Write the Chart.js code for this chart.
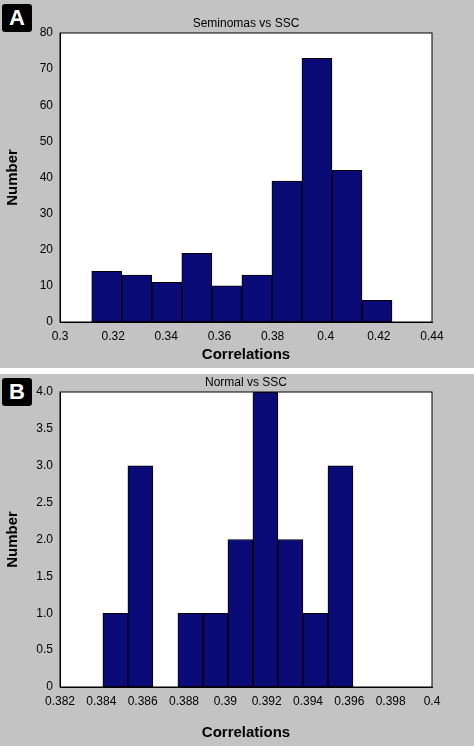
<!DOCTYPE html><html><head><style>
body{margin:0;background:#fff;width:474px;height:746px;position:relative;overflow:hidden;font-family:"Liberation Sans",Arial,sans-serif}
.p{position:absolute;left:0;width:474px;background:#c3c3c3}
.lab{position:absolute;left:2px;background:#000;color:#fff;font:bold 22px "Liberation Sans",Arial;width:30px;height:28px;text-align:center;line-height:28px;border-radius:3px}
</style><script src="https://cdn.jsdelivr.net/npm/chart.js@4"></script></head><body>
<div class="p" style="top:0;height:368px"><canvas id="a" width="474" height="368"></canvas></div>
<div class="p" style="top:374px;height:372px"><canvas id="b" width="474" height="372"></canvas></div>
<div class="lab" style="top:4px">A</div>
<div class="lab" style="top:378px">B</div>
<script>
const binsA=[0.3176,0.3289,0.3402,0.3515,0.3628,0.3741,0.3854,0.3967,0.4080,0.4193];
const countsA=[14,13,11,19,10,13,39,73,42,6];
const binsB=[0.38468,0.38589,0.38710,0.38831,0.38952,0.39073,0.39194,0.39315,0.39436,0.39557];
const countsB=[1,3,0,1,1,2,4,2,1,3];
const ticksAx=[0.3,0.32,0.34,0.36,0.38,0.4,0.42,0.44];
const ticksBx=[0.382,0.384,0.386,0.388,0.39,0.392,0.394,0.396,0.398,0.4];
function mk(id,bins,counts,xmin,xmax,xstep,ymax,ystep,title,pad,xh){
 const titlePl={id:'t',afterDraw(c){const x=c.ctx,a=c.chartArea;x.save();
  x.fillStyle='#fff';x.globalCompositeOperation='destination-over';x.fillRect(a.left,a.top,a.right-a.left,a.bottom-a.top);x.globalCompositeOperation='source-over';
  x.strokeStyle='#000';x.lineWidth=1;x.strokeRect(a.left,a.top,a.right-a.left,a.bottom-a.top);
  x.fillStyle='#000';x.font='12px "Liberation Sans",Arial';x.textAlign='center';x.textBaseline='bottom';x.fillText(title,(a.left+a.right)/2,a.top-3);x.restore();}};
 new Chart(document.getElementById(id),{type:'bar',
  data:{datasets:[{data:bins.map((b,i)=>({x:b,y:counts[i]})),backgroundColor:'#0b0b78',borderColor:'#000',borderWidth:1,barPercentage:1,categoryPercentage:1,borderSkipped:false}]},
  options:{responsive:false,animation:false,layout:{padding:{top:pad,right:42,left:0,bottom:0}},
   plugins:{legend:{display:false},tooltip:{enabled:false}},
   scales:{x:{type:'linear',min:xmin,max:xmax,offset:false,afterFit(s){s.height=xh},
     ticks:{stepSize:xstep,color:'#000',font:{size:12},maxRotation:0,autoSkip:false,callback:v=>+v.toFixed(3)},
     grid:{display:false,drawTicks:true,tickLength:4,color:'#000'},border:{display:true,color:'#000'},
     title:{display:true,text:'Correlations',color:'#000',font:{size:15,weight:'bold'}}},
    y:{min:0,max:ymax,afterFit(s){s.width=60},ticks:{stepSize:ystep,color:'#000',font:{size:12}},
     grid:{display:false,tickLength:4},border:{display:true,color:'#000'},
     title:{display:true,text:'Number',color:'#000',font:{size:15,weight:'bold'}}}}},
  plugins:[titlePl]});
}
mk('a',binsA,countsA,0.3,0.44,0.02,80,10,'Seminomas vs SSC',33,46);
mk('b',binsB,countsB,0.382,0.4,0.002,4,0.5,'Normal vs SSC',18,59);
</script></body></html>
